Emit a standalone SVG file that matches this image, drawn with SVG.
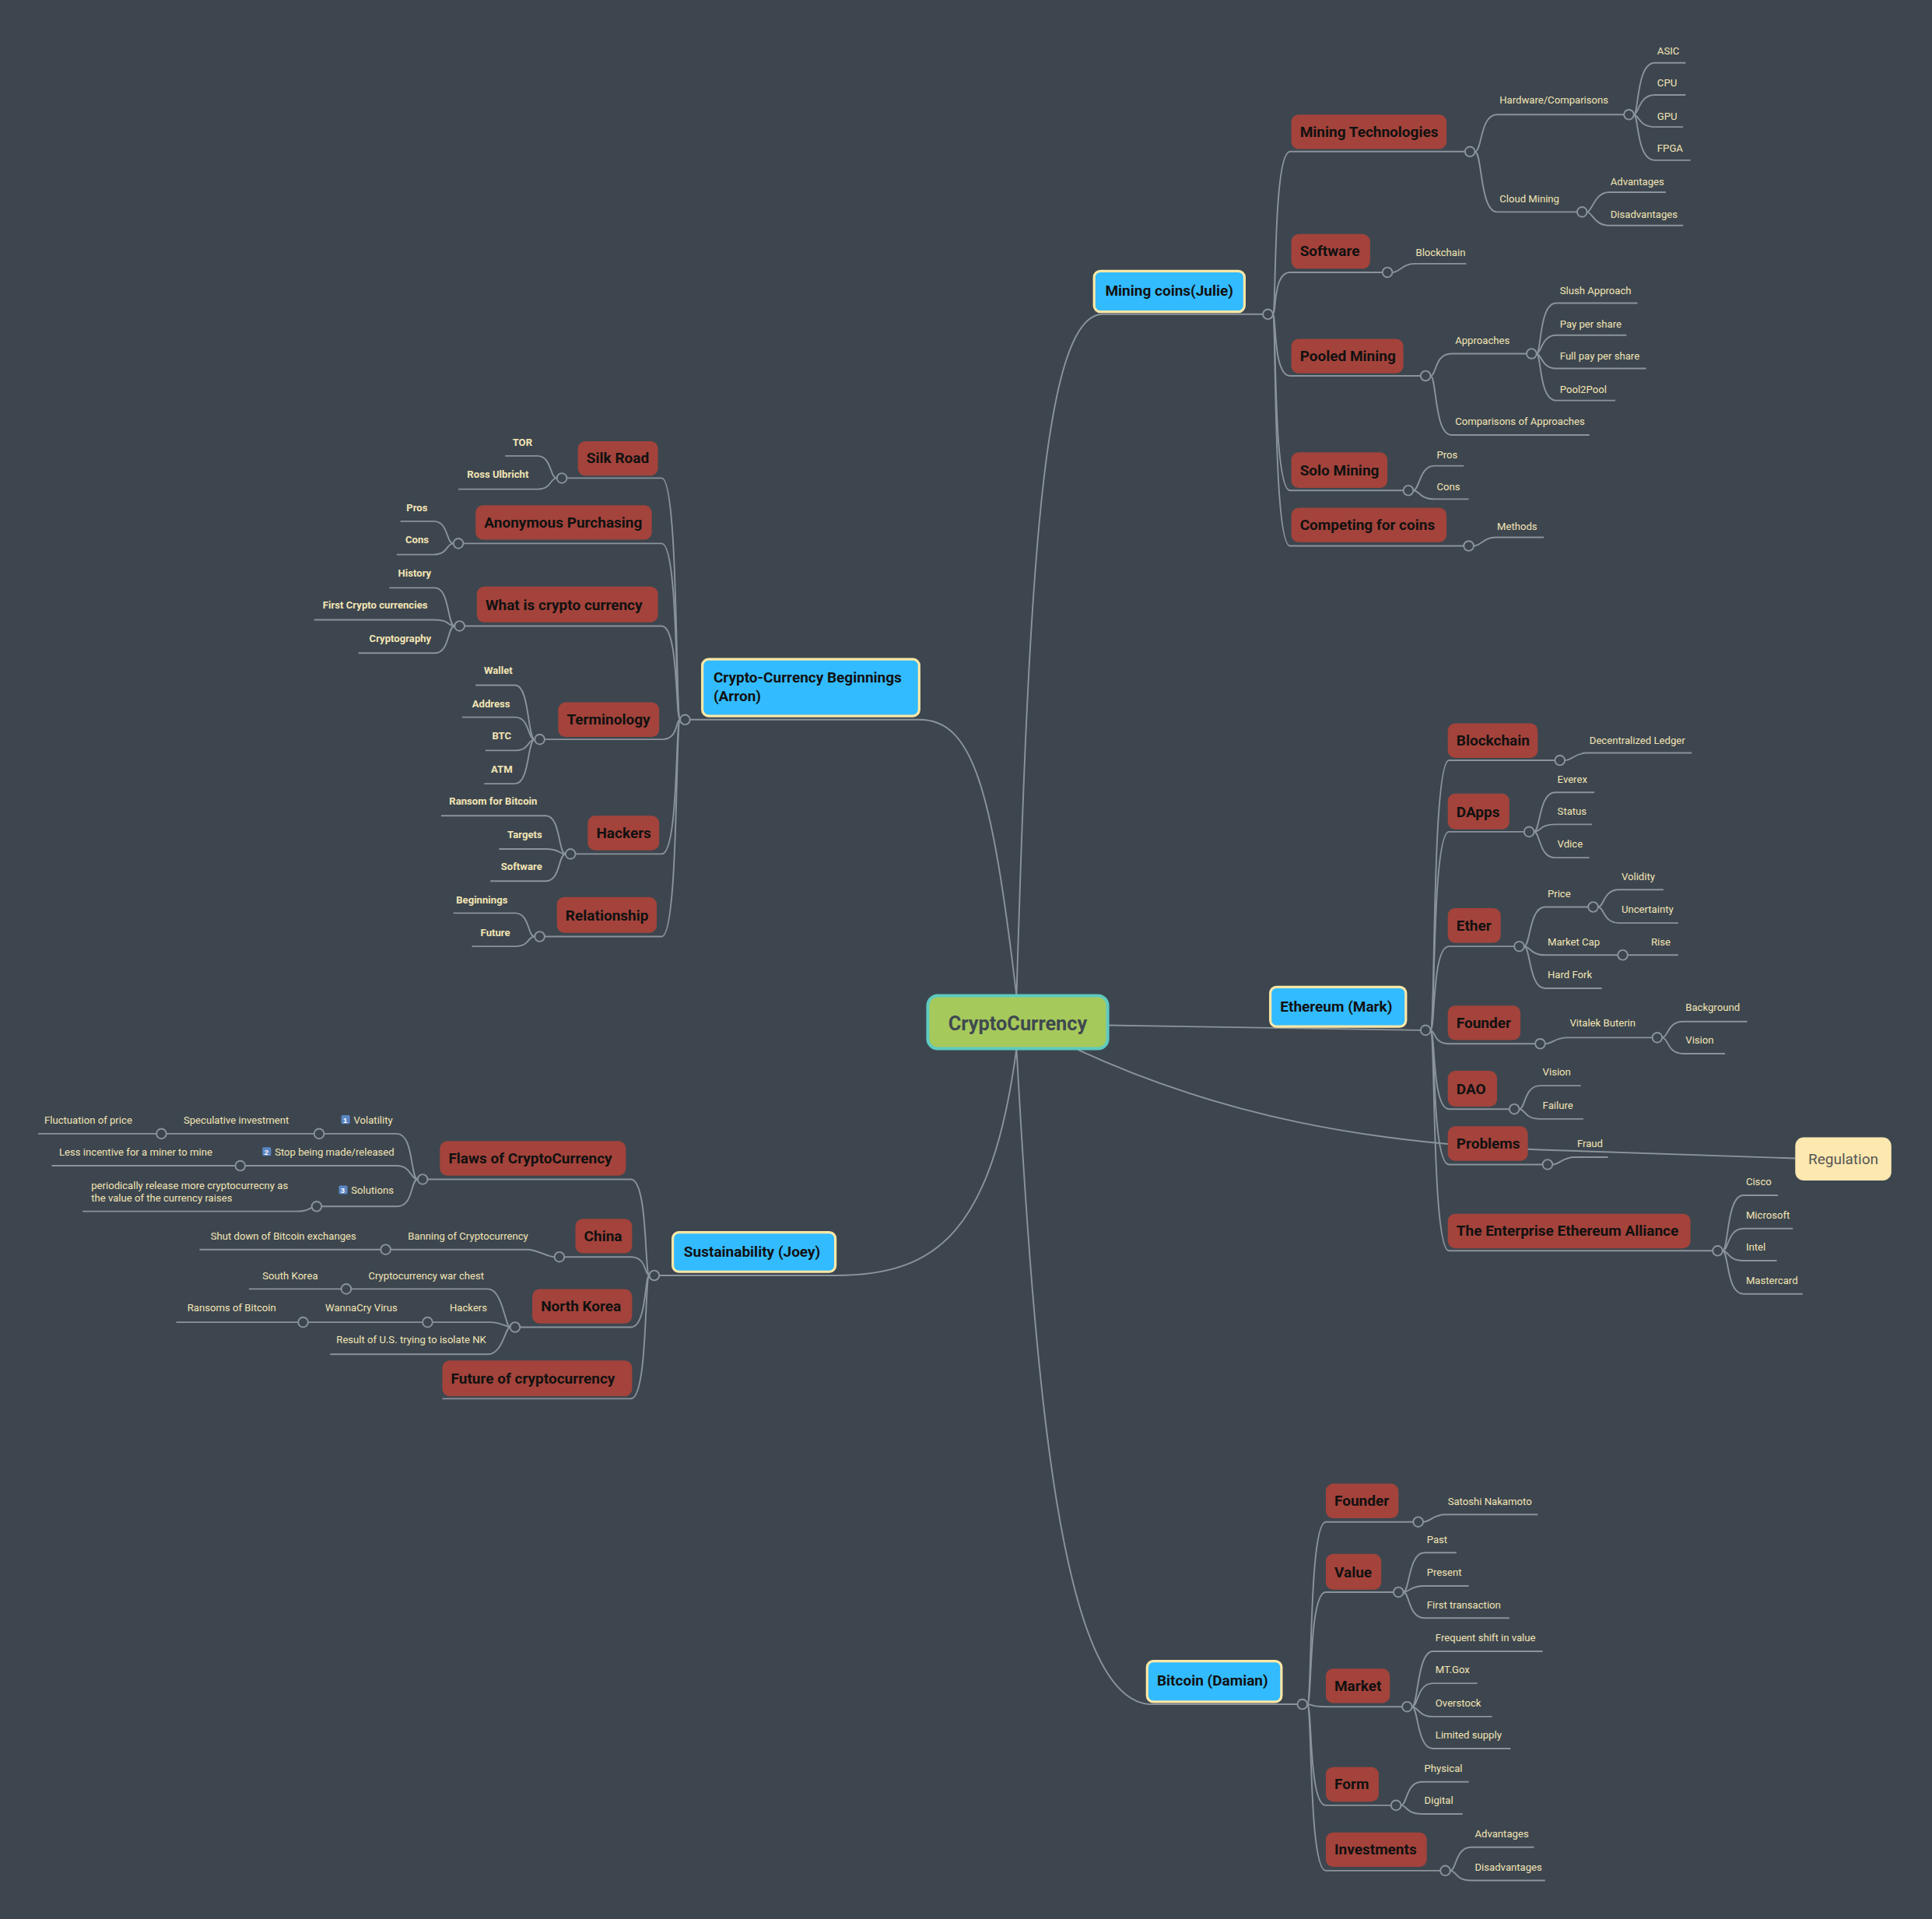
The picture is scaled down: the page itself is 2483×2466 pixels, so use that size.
<svg xmlns="http://www.w3.org/2000/svg" width="2483" height="2466" viewBox="0 0 2483 2466">
<style>
.l{fill:none;stroke:#8b949b;stroke-width:1.2}
.c{fill:#3d464f;stroke:#8b949b;stroke-width:1.2}
.r{fill:#a3433b}
.b{fill:#33bbff;stroke:#fde8a6;stroke-width:2}
.t{font-family:Roboto,"Liberation Sans",sans-serif;font-weight:bold;font-size:12px;fill:#111}
.s{font-family:Roboto,"Liberation Sans",sans-serif;font-size:8.3px;fill:#f3e5b5}
.sb{font-family:Roboto,"Liberation Sans",sans-serif;font-size:8.3px;font-weight:bold;fill:#f3e5b5;text-anchor:end}
.n{fill:#5b86c4}
.nt{font-family:"Liberation Sans",sans-serif;font-size:6px;fill:#fff;font-weight:bold}
</style>
<rect width="2483" height="2466" fill="#3d464f"/>
<g transform="scale(1.58355)">
<g id="connectors">
<path class="l" d="M825,808 C835,480 845,255 895,255 L1025,255"/>
<path class="l" d="M825,808 C805,640 790,584 746,584 L560,584"/>
<path class="l" d="M825,851 C805,1000 760,1035 678,1035 L535,1035"/>
<path class="l" d="M899,832 L1153,836"/>
<path class="l" d="M875,852 C990,905 1110,928 1250,933 L1457,940"/>
<path class="l" d="M825,851 C840,1120 860,1383 935,1383 L1053,1383"/>
<!-- Julie -->
<path class="l" d="M1033,255 C1036,255 1033,123 1047,123 L1189,123"/>
<path class="l" d="M1033,255 C1036,255 1033,221 1047,221 L1122,221"/>
<path class="l" d="M1033,255 C1036,255 1033,305 1047,305 L1153,305"/>
<path class="l" d="M1033,255 C1036,255 1033,398 1047,398 L1139,398"/>
<path class="l" d="M1033,255 C1036,255 1033,443 1047,443 L1188,443"/>
<path class="l" d="M1197,123 C1203,123 1201,93 1215,93 L1318,93"/>
<path class="l" d="M1197,123 C1203,123 1201,172 1215,172 L1280,172"/>
<path class="l" d="M1326,93 C1330,93 1328,51 1343,51 L1368,51"/>
<path class="l" d="M1326,93 C1330,93 1330,77 1343,77 L1368,77"/>
<path class="l" d="M1326,93 C1330,93 1330,103 1343,103 L1366,103"/>
<path class="l" d="M1326,93 C1330,93 1328,130 1343,130 L1372,130"/>
<path class="l" d="M1288,172 C1292,172 1294,156 1306,156 L1352,156"/>
<path class="l" d="M1288,172 C1292,172 1294,183 1306,183 L1366,183"/>
<path class="l" d="M1130,221 C1136,221 1138,214 1148,214 L1190,214"/>
<path class="l" d="M1161,305 C1166,305 1164,287 1178,287 L1239,287"/>
<path class="l" d="M1161,305 C1166,305 1164,353 1178,353 L1290,353"/>
<path class="l" d="M1247,287 C1251,287 1249,246 1263,246 L1329,246"/>
<path class="l" d="M1247,287 C1251,287 1251,272 1263,272 L1320,272"/>
<path class="l" d="M1247,287 C1251,287 1251,299 1263,299 L1336,299"/>
<path class="l" d="M1247,287 C1251,287 1249,325 1263,325 L1311,325"/>
<path class="l" d="M1147,398 C1152,398 1152,378 1164,378 L1188,378"/>
<path class="l" d="M1147,398 C1152,398 1152,405 1164,405 L1192,405"/>
<path class="l" d="M1196,443 C1202,443 1204,436 1214,436 L1253,436"/>
<!-- Arron -->
<path class="l" d="M552,584 C548,584 551,388 537,388 L460,388"/>
<path class="l" d="M552,584 C548,584 551,441 537,441 L376,441"/>
<path class="l" d="M552,584 C548,584 551,508 537,508 L377,508"/>
<path class="l" d="M552,584 C548,584 551,600 537,600 L442,600"/>
<path class="l" d="M552,584 C548,584 551,693 537,693 L467,693"/>
<path class="l" d="M552,584 C548,584 551,760 537,760 L442,760"/>
<path class="l" d="M452,388 C446,388 448,370 436,370 L410,370"/>
<path class="l" d="M452,388 C446,388 448,397 436,397 L372,397"/>
<path class="l" d="M368,441 C362,441 364,423 352,423 L325,423"/>
<path class="l" d="M368,441 C362,441 364,450 352,450 L322,450"/>
<path class="l" d="M369,508 C363,508 365,477 353,477 L316,477"/>
<path class="l" d="M369,508 C363,508 365,503 353,503 L255,503"/>
<path class="l" d="M369,508 C363,508 365,530 353,530 L291,530"/>
<path class="l" d="M434,600 C428,600 430,556 418,556 L386,556"/>
<path class="l" d="M434,600 C428,600 430,582 418,582 L375,582"/>
<path class="l" d="M434,600 C428,600 430,609 418,609 L394,609"/>
<path class="l" d="M434,600 C428,600 430,636 418,636 L393,636"/>
<path class="l" d="M459,693 C453,693 455,662 443,662 L358,662"/>
<path class="l" d="M459,693 C453,693 455,689 443,689 L405,689"/>
<path class="l" d="M459,693 C453,693 455,715 443,715 L398,715"/>
<path class="l" d="M434,760 C428,760 430,741 418,741 L368,741"/>
<path class="l" d="M434,760 C428,760 430,768 418,768 L383,768"/>
<!-- Joey -->
<path class="l" d="M527,1035 C523,1035 526,957 512,957 L347,957"/>
<path class="l" d="M527,1035 C523,1035 525,1020 512,1020 L458,1020"/>
<path class="l" d="M527,1035 C523,1035 525,1077 512,1077 L422,1077"/>
<path class="l" d="M527,1035 C523,1035 526,1135 512,1135 L359,1135"/>
<path class="l" d="M339,957 C333,957 336,920 322,920 L263,920"/>
<path class="l" d="M255,920 L135,920"/><path class="l" d="M127,920 L31,920"/>
<path class="l" d="M339,957 C333,957 334,946 322,946 L199,946"/>
<path class="l" d="M191,946 L42,946"/>
<path class="l" d="M339,957 C333,957 336,979 322,979 L261,979"/>
<path class="l" d="M253,980 C248,983 245,983 240,983 L67,983"/>
<path class="l" d="M450,1020 C444,1020 436,1014 428,1014 L317,1014"/>
<path class="l" d="M309,1014 L162,1014"/>
<path class="l" d="M414,1077 C410,1077 408,1046 396,1046 L285,1046"/>
<path class="l" d="M277,1046 L202,1046"/>
<path class="l" d="M414,1077 C408,1075 404,1073 398,1073 L351,1073"/>
<path class="l" d="M343,1073 L250,1073"/><path class="l" d="M242,1073 L143,1073"/>
<path class="l" d="M414,1077 C410,1077 408,1099 396,1099 L268,1099"/>
<!-- Mark -->
<path class="l" d="M1161,836 C1165,836 1162,617 1176,617 L1262,617"/>
<path class="l" d="M1161,836 C1165,836 1162,675 1176,675 L1237,675"/>
<path class="l" d="M1161,836 C1165,836 1162,768 1176,768 L1229,768"/>
<path class="l" d="M1161,836 C1165,836 1163,847 1176,847 L1246,847"/>
<path class="l" d="M1161,836 C1165,836 1162,900 1176,900 L1225,900"/>
<path class="l" d="M1161,836 C1165,836 1162,945 1176,945 L1252,945"/>
<path class="l" d="M1161,836 C1165,836 1162,1015 1176,1015 L1390,1015"/>
<path class="l" d="M1270,617 C1276,617 1278,611 1288,611 L1373,611"/>
<path class="l" d="M1245,675 C1250,675 1249,643 1262,643 L1294,643"/>
<path class="l" d="M1245,675 C1250,675 1250,669 1262,669 L1292,669"/>
<path class="l" d="M1245,675 C1250,675 1249,696 1262,696 L1290,696"/>
<path class="l" d="M1237,768 C1242,768 1241,736 1254,736 L1289,736"/>
<path class="l" d="M1237,768 C1242,768 1242,775 1254,775 L1313,775"/>
<path class="l" d="M1237,768 C1242,768 1241,802 1254,802 L1300,802"/>
<path class="l" d="M1297,736 C1302,736 1301,722 1314,722 L1350,722"/>
<path class="l" d="M1297,736 C1302,736 1301,749 1314,749 L1362,749"/>
<path class="l" d="M1321,775 L1362,775"/>
<path class="l" d="M1254,847 C1260,847 1262,842 1272,842 L1341,842"/>
<path class="l" d="M1349,842 C1354,842 1353,829 1366,829 L1418,829"/>
<path class="l" d="M1349,842 C1354,842 1353,855 1366,855 L1400,855"/>
<path class="l" d="M1233,900 C1238,900 1237,881 1250,881 L1283,881"/>
<path class="l" d="M1233,900 C1238,900 1237,908 1250,908 L1285,908"/>
<path class="l" d="M1260,945 C1266,945 1268,939 1278,939 L1305,939"/>
<path class="l" d="M1398,1015 C1403,1015 1401,970 1415,970 L1443,970"/>
<path class="l" d="M1398,1015 C1403,1015 1402,997 1415,997 L1455,997"/>
<path class="l" d="M1398,1015 C1403,1015 1402,1023 1415,1023 L1442,1023"/>
<path class="l" d="M1398,1015 C1403,1015 1401,1050 1415,1050 L1463,1050"/>
<!-- Damian -->
<path class="l" d="M1061,1383 C1065,1383 1062,1235 1076,1235 L1147,1235"/>
<path class="l" d="M1061,1383 C1065,1383 1062,1292 1076,1292 L1131,1292"/>
<path class="l" d="M1061,1383 C1065,1383 1063,1385 1076,1385 L1138,1385"/>
<path class="l" d="M1061,1383 C1065,1383 1062,1465 1076,1465 L1129,1465"/>
<path class="l" d="M1061,1383 C1065,1383 1062,1518 1076,1518 L1169,1518"/>
<path class="l" d="M1155,1235 C1161,1235 1163,1229 1173,1229 L1248,1229"/>
<path class="l" d="M1139,1292 C1144,1292 1143,1260 1156,1260 L1182,1260"/>
<path class="l" d="M1139,1292 C1144,1292 1144,1287 1156,1287 L1192,1287"/>
<path class="l" d="M1139,1292 C1144,1292 1143,1313 1156,1313 L1225,1313"/>
<path class="l" d="M1146,1385 C1151,1385 1150,1340 1163,1340 L1252,1340"/>
<path class="l" d="M1146,1385 C1151,1385 1150,1366 1163,1366 L1199,1366"/>
<path class="l" d="M1146,1385 C1151,1385 1151,1393 1163,1393 L1211,1393"/>
<path class="l" d="M1146,1385 C1151,1385 1150,1419 1163,1419 L1226,1419"/>
<path class="l" d="M1137,1465 C1142,1465 1141,1446 1154,1446 L1192,1446"/>
<path class="l" d="M1137,1465 C1142,1465 1141,1472 1154,1472 L1187,1472"/>
<path class="l" d="M1177,1518 C1182,1518 1181,1499 1194,1499 L1245,1499"/>
<path class="l" d="M1177,1518 C1182,1518 1181,1526 1194,1526 L1254,1526"/>
<!-- hubs -->
<g>
<circle class="c" cx="1029" cy="255" r="4"/><circle class="c" cx="556" cy="584" r="4"/><circle class="c" cx="531" cy="1035" r="4"/><circle class="c" cx="1157" cy="836" r="4"/><circle class="c" cx="1057" cy="1383" r="4"/>
<circle class="c" cx="1193" cy="123" r="4"/><circle class="c" cx="1322" cy="93" r="4"/><circle class="c" cx="1284" cy="172" r="4"/><circle class="c" cx="1126" cy="221" r="4"/><circle class="c" cx="1157" cy="305" r="4"/><circle class="c" cx="1243" cy="287" r="4"/><circle class="c" cx="1143" cy="398" r="4"/><circle class="c" cx="1192" cy="443" r="4"/>
<circle class="c" cx="456" cy="388" r="4"/><circle class="c" cx="372" cy="441" r="4"/><circle class="c" cx="373" cy="508" r="4"/><circle class="c" cx="438" cy="600" r="4"/><circle class="c" cx="463" cy="693" r="4"/><circle class="c" cx="438" cy="760" r="4"/>
<circle class="c" cx="343" cy="957" r="4"/><circle class="c" cx="259" cy="920" r="4"/><circle class="c" cx="131" cy="920" r="4"/><circle class="c" cx="195" cy="946" r="4"/><circle class="c" cx="257" cy="979" r="4"/><circle class="c" cx="454" cy="1020" r="4"/><circle class="c" cx="313" cy="1014" r="4"/><circle class="c" cx="418" cy="1077" r="4"/><circle class="c" cx="281" cy="1046" r="4"/><circle class="c" cx="347" cy="1073" r="4"/><circle class="c" cx="246" cy="1073" r="4"/>
<circle class="c" cx="1266" cy="617" r="4"/><circle class="c" cx="1241" cy="675" r="4"/><circle class="c" cx="1233" cy="768" r="4"/><circle class="c" cx="1293" cy="736" r="4"/><circle class="c" cx="1317" cy="775" r="4"/><circle class="c" cx="1250" cy="847" r="4"/><circle class="c" cx="1345" cy="842" r="4"/><circle class="c" cx="1229" cy="900" r="4"/><circle class="c" cx="1256" cy="945" r="4"/><circle class="c" cx="1394" cy="1015" r="4"/>
<circle class="c" cx="1151" cy="1235" r="4"/><circle class="c" cx="1135" cy="1292" r="4"/><circle class="c" cx="1142" cy="1385" r="4"/><circle class="c" cx="1133" cy="1465" r="4"/><circle class="c" cx="1173" cy="1518" r="4"/>
</g>
</g>
<g id="center"><rect x="753" y="808" width="146" height="43" rx="8" fill="#a6c95c" stroke="#5ecbc0" stroke-width="2.5"/><text x="826" y="836" text-anchor="middle" font-family="Roboto,'Liberation Sans',sans-serif" font-weight="bold" font-size="16" fill="#3f4a4f">CryptoCurrency</text></g>
<g id="regulation"><rect x="1457" y="923" width="78" height="35" rx="7" fill="#fde8b0"/><text x="1496" y="945" text-anchor="middle" font-family="Roboto,'Liberation Sans',sans-serif" font-size="12" fill="#555">Regulation</text></g>
<g id="julie"><rect class="b" x="888" y="220" width="122" height="33" rx="5"/><text class="t" x="897" y="240">Mining coins(Julie)</text></g>
<g id="arron"><rect class="b" x="570" y="535" width="176" height="46" rx="5"/><text class="t" x="579" y="554">Crypto-Currency Beginnings</text><text class="t" x="579" y="569">(Arron)</text></g>
<g id="joey"><rect class="b" x="546" y="1000" width="132" height="32" rx="5"/><text class="t" x="555" y="1020">Sustainability (Joey)</text></g>
<g id="mark"><rect class="b" x="1031" y="801" width="110" height="32" rx="5"/><text class="t" x="1039" y="821">Ethereum (Mark)</text></g>
<g id="damian"><rect class="b" x="931" y="1348" width="109" height="33" rx="5"/><text class="t" x="939" y="1368">Bitcoin (Damian)</text></g>
<g id="julie-children">
<rect class="r" x="1048" y="93" width="126" height="28" rx="6"/><text class="t" x="1055" y="111">Mining Technologies</text>
<rect class="r" x="1048" y="190" width="64" height="28" rx="6"/><text class="t" x="1055" y="208">Software</text>
<rect class="r" x="1048" y="275" width="91" height="28" rx="6"/><text class="t" x="1055" y="293">Pooled Mining</text>
<rect class="r" x="1048" y="367" width="78" height="29" rx="6"/><text class="t" x="1055" y="386">Solo Mining</text>
<rect class="r" x="1048" y="412" width="126" height="28" rx="6"/><text class="t" x="1055" y="430">Competing for coins</text>
<text class="s" x="1217" y="84">Hardware/Comparisons</text><text class="s" x="1345" y="44">ASIC</text><text class="s" x="1345" y="70">CPU</text><text class="s" x="1345" y="97">GPU</text><text class="s" x="1345" y="123">FPGA</text>
<text class="s" x="1217" y="164">Cloud Mining</text><text class="s" x="1307" y="150">Advantages</text><text class="s" x="1307" y="177">Disadvantages</text>
<text class="s" x="1149" y="208">Blockchain</text>
<text class="s" x="1181" y="279">Approaches</text><text class="s" x="1266" y="239">Slush Approach</text><text class="s" x="1266" y="266">Pay per share</text><text class="s" x="1266" y="292">Full pay per share</text><text class="s" x="1266" y="319">Pool2Pool</text><text class="s" x="1181" y="345">Comparisons of Approaches</text>
<text class="s" x="1166" y="372">Pros</text><text class="s" x="1166" y="398">Cons</text><text class="s" x="1215" y="430">Methods</text>
</g>
<g id="arron-children">
<rect class="r" x="469" y="358" width="65" height="28" rx="6"/><text class="t" x="476" y="376">Silk Road</text>
<rect class="r" x="386" y="410" width="143" height="28" rx="6"/><text class="t" x="393" y="428">Anonymous Purchasing</text>
<rect class="r" x="387" y="476" width="147" height="29" rx="6"/><text class="t" x="394" y="495">What is crypto currency</text>
<rect class="r" x="453" y="570" width="82" height="28" rx="6"/><text class="t" x="460" y="588">Terminology</text>
<rect class="r" x="477" y="662" width="58" height="28" rx="6"/><text class="t" x="484" y="680">Hackers</text>
<rect class="r" x="452" y="728" width="81" height="29" rx="6"/><text class="t" x="459" y="747">Relationship</text>
<text class="sb" x="432" y="362">TOR</text><text class="sb" x="429" y="388">Ross Ulbricht</text>
<text class="sb" x="347" y="415">Pros</text><text class="sb" x="348" y="441">Cons</text>
<text class="sb" x="350" y="468">History</text><text class="sb" x="347" y="494">First Crypto currencies</text><text class="sb" x="350" y="521">Cryptography</text>
<text class="sb" x="416" y="547">Wallet</text><text class="sb" x="414" y="574">Address</text><text class="sb" x="415" y="600">BTC</text><text class="sb" x="416" y="627">ATM</text>
<text class="sb" x="436" y="653">Ransom for Bitcoin</text><text class="sb" x="440" y="680">Targets</text><text class="sb" x="440" y="706">Software</text>
<text class="sb" x="412" y="733">Beginnings</text><text class="sb" x="414" y="760">Future</text>
</g>
<g id="joey-children">
<rect class="r" x="357" y="926" width="151" height="28" rx="6"/><text class="t" x="364" y="944">Flaws of CryptoCurrency</text>
<rect class="r" x="467" y="989" width="46" height="28" rx="6"/><text class="t" x="474" y="1007">China</text>
<rect class="r" x="432" y="1046" width="81" height="28" rx="6"/><text class="t" x="439" y="1064">North Korea</text>
<rect class="r" x="359" y="1104" width="154" height="29" rx="6"/><text class="t" x="366" y="1123">Future of cryptocurrency</text>
<rect class="n" x="277" y="905" width="7" height="7" rx="1"/><text class="nt" x="278.5" y="911">1</text><text class="s" x="287" y="912">Volatility</text>
<text class="s" x="149" y="912">Speculative investment</text><text class="s" x="36" y="912">Fluctuation of price</text>
<rect class="n" x="213" y="931" width="7" height="7" rx="1"/><text class="nt" x="214.5" y="937">2</text><text class="s" x="223" y="938">Stop being made/released</text>
<text class="s" x="48" y="938">Less incentive for a miner to mine</text>
<rect class="n" x="275" y="962" width="7" height="7" rx="1"/><text class="nt" x="276.5" y="968">3</text><text class="s" x="285" y="969">Solutions</text>
<text class="s" x="74" y="965">periodically release more cryptocurrecny as</text><text class="s" x="74" y="975">the value of the currency raises</text>
<text class="s" x="331" y="1006">Banning of Cryptocurrency</text><text class="s" x="171" y="1006">Shut down of Bitcoin exchanges</text>
<text class="s" x="299" y="1038">Cryptocurrency war chest</text><text class="s" x="213" y="1038">South Korea</text>
<text class="s" x="365" y="1064">Hackers</text><text class="s" x="264" y="1064">WannaCry Virus</text><text class="s" x="152" y="1064">Ransoms of Bitcoin</text>
<text class="s" x="273" y="1090">Result of U.S. trying to isolate NK</text>
</g>
<g id="mark-children">
<rect class="r" x="1175" y="587" width="73" height="28" rx="6"/><text class="t" x="1182" y="605">Blockchain</text>
<rect class="r" x="1175" y="644" width="50" height="29" rx="6"/><text class="t" x="1182" y="663">DApps</text>
<rect class="r" x="1175" y="737" width="43" height="28" rx="6"/><text class="t" x="1182" y="755">Ether</text>
<rect class="r" x="1175" y="816" width="59" height="28" rx="6"/><text class="t" x="1182" y="834">Founder</text>
<rect class="r" x="1175" y="869" width="40" height="29" rx="6"/><text class="t" x="1182" y="888">DAO</text>
<rect class="r" x="1175" y="914" width="65" height="28" rx="6"/><text class="t" x="1182" y="932">Problems</text>
<rect class="r" x="1175" y="985" width="197" height="28" rx="6"/><text class="t" x="1182" y="1003">The Enterprise Ethereum Alliance</text>
<text class="s" x="1290" y="604">Decentralized Ledger</text>
<text class="s" x="1264" y="635">Everex</text><text class="s" x="1264" y="661">Status</text><text class="s" x="1264" y="688">Vdice</text>
<text class="s" x="1256" y="728">Price</text><text class="s" x="1316" y="714">Volidity</text><text class="s" x="1316" y="741">Uncertainty</text>
<text class="s" x="1256" y="767">Market Cap</text><text class="s" x="1340" y="767">Rise</text><text class="s" x="1256" y="794">Hard Fork</text>
<text class="s" x="1274" y="833">Vitalek Buterin</text><text class="s" x="1368" y="820">Background</text><text class="s" x="1368" y="847">Vision</text>
<text class="s" x="1252" y="873">Vision</text><text class="s" x="1252" y="900">Failure</text><text class="s" x="1280" y="931">Fraud</text>
<text class="s" x="1417" y="962">Cisco</text><text class="s" x="1417" y="989">Microsoft</text><text class="s" x="1417" y="1015">Intel</text><text class="s" x="1417" y="1042">Mastercard</text>
</g>
<g id="damian-children">
<rect class="r" x="1076" y="1204" width="59" height="28" rx="6"/><text class="t" x="1083" y="1222">Founder</text>
<rect class="r" x="1076" y="1261" width="45" height="29" rx="6"/><text class="t" x="1083" y="1280">Value</text>
<rect class="r" x="1076" y="1354" width="52" height="28" rx="6"/><text class="t" x="1083" y="1372">Market</text>
<rect class="r" x="1076" y="1434" width="43" height="28" rx="6"/><text class="t" x="1083" y="1452">Form</text>
<rect class="r" x="1076" y="1487" width="82" height="28" rx="6"/><text class="t" x="1083" y="1505">Investments</text>
<text class="s" x="1175" y="1221">Satoshi Nakamoto</text>
<text class="s" x="1158" y="1252">Past</text><text class="s" x="1158" y="1279">Present</text><text class="s" x="1158" y="1305">First transaction</text>
<text class="s" x="1165" y="1332">Frequent shift in value</text><text class="s" x="1165" y="1358">MT.Gox</text><text class="s" x="1165" y="1385">Overstock</text><text class="s" x="1165" y="1411">Limited supply</text>
<text class="s" x="1156" y="1438">Physical</text><text class="s" x="1156" y="1464">Digital</text>
<text class="s" x="1197" y="1491">Advantages</text><text class="s" x="1197" y="1518">Disadvantages</text>
</g>
</g>
</svg>
